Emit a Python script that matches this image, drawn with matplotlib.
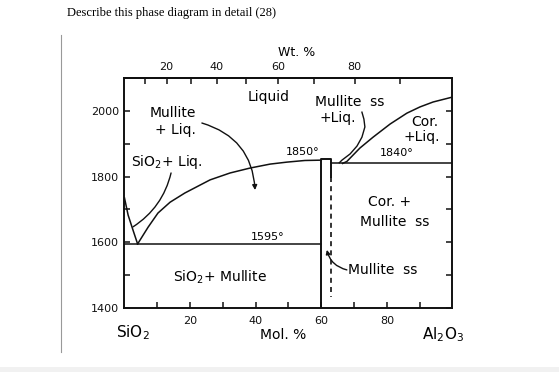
import matplotlib.pyplot as plt
import numpy as np
from matplotlib.patches import Rectangle

# SiO2 - Al2O3 phase diagram, x in mol % Al2O3, y in deg C
sio2_liq_x = [0, 1.1, 2.6, 4]
sio2_liq_t = [1735, 1683, 1637, 1595]
mullite_liq_x = [4, 7.2, 10.2, 13.9, 18.4, 26.1, 32.2, 38.3, 44.4, 49.5, 55, 60]
mullite_liq_t = [1595, 1646, 1689, 1722, 1750, 1790, 1811, 1826, 1838, 1844, 1849, 1850]
cor_liq_x = [66.5, 67.8, 71.8, 75.8, 81, 86.1, 90.1, 94.1, 100]
cor_liq_t = [1840, 1846, 1887, 1920, 1960, 1993, 2012, 2027, 2042]
mss_liq_x = [65.5, 66.3, 68.8, 70.9, 72.4, 73.3, 73, 72.4]
mss_liq_t = [1842, 1850, 1869, 1893, 1920, 1951, 1975, 1996]

eutectic_t = 1595
peritectic_t = 1840
mullite_lo, mullite_hi = 60, 63
mullite_top = 1852

mol_ticks = [10, 20, 30, 40, 50, 60, 70, 80, 90]
mol_labels = [20, 40, 60, 80]
wt_ticks = [10, 20, 30, 40, 50, 60, 70, 80, 90]
wt_labels = [20, 40, 60, 80]
t_ticks = [1400, 1500, 1600, 1700, 1800, 1900, 2000]
t_labels = [1400, 1600, 1800, 2000]

M_AL, M_SI = 101.96, 60.08


def mol_to_wt(m):
    m = np.clip(np.asarray(m, float) / 100, 0, 1)
    return 100 * m * M_AL / (m * M_AL + (1 - m) * M_SI)


def wt_to_mol(w):
    w = np.clip(np.asarray(w, float) / 100, 0, 1)
    return 100 * (w / M_AL) / (w / M_AL + (1 - w) / M_SI)


fig = plt.figure(figsize=(5.59, 3.72), dpi=100)
ax = fig.add_axes([0.2227, 0.172, 0.5867, 0.6183])
lw = 1.1
k = '#111111'

ax.plot(sio2_liq_x, sio2_liq_t, color=k, lw=lw)
ax.plot(mullite_liq_x, mullite_liq_t, color=k, lw=lw)
ax.plot(cor_liq_x, cor_liq_t, color=k, lw=lw)
ax.plot(mss_liq_x, mss_liq_t, color=k, lw=1.0)
ax.plot([0, mullite_lo], [eutectic_t, eutectic_t], color=k, lw=lw)
ax.plot([mullite_hi, 100], [peritectic_t, peritectic_t], color=k, lw=lw)
# mullite solid solution field
ax.plot([mullite_lo, mullite_lo, mullite_hi, mullite_hi],
        [1400, mullite_top, mullite_top, 1800], color=k, lw=1.4)
ax.plot([mullite_hi, mullite_hi], [1800, 1435], color=k, lw=1.2, ls=(0, (3, 2.5)))

ax.set_xlim(0, 100)
ax.set_ylim(1400, 2100)
for s in ax.spines.values():
    s.set_linewidth(1.4)
    s.set_color(k)

ax.set_xticks(mol_ticks)
ax.set_xticklabels([str(v) if v in mol_labels else '' for v in mol_ticks])
ax.set_yticks(t_ticks)
ax.set_yticklabels([str(v) if v in t_labels else '' for v in t_ticks])
ax.tick_params(direction='in', length=4, width=1.1, labelsize=8, colors=k,
               right=True)
ax.tick_params(axis='x', pad=6)
ax.tick_params(axis='y', pad=4)

top = ax.secondary_xaxis('top', functions=(mol_to_wt, wt_to_mol))
top.set_xticks(wt_ticks)
top.set_xticklabels([str(v) if v in wt_labels else '' for v in wt_ticks])
top.tick_params(direction='in', length=4, width=1.1, labelsize=8, pad=4, colors=k)
top.spines['top'].set_linewidth(1.4)

fs = 10
ax.text(43.8, 2042, 'Liquid', fontsize=fs, ha='center', va='center')
ax.text(68.8, 2027, 'Mullite  ss', fontsize=fs, ha='center', va='center')
ax.text(65.1, 1978, '+Liq.', fontsize=fs, ha='center', va='center')
ax.text(91.6, 1966, 'Cor.', fontsize=fs, ha='center', va='center')
ax.text(90.7, 1920, '+Liq.', fontsize=fs, ha='center', va='center')
ax.text(83.1, 1872, '1840°', fontsize=8, ha='center', va='center')
ax.text(54.4, 1875, '1850°', fontsize=8, ha='center', va='center')
ax.text(14.8, 1993, 'Mullite', fontsize=fs, ha='center', va='center')
ax.text(15.4, 1942, '+ Liq.', fontsize=fs, ha='center', va='center')
ax.text(13.0, 1844, 'SiO$_2$+ Liq.', fontsize=fs, ha='center', va='center')
ax.text(43.8, 1616, '1595°', fontsize=8, ha='center', va='center')
ax.text(29.1, 1495, 'SiO$_2$+ Mullite', fontsize=fs, ha='center', va='center')
ax.text(80.9, 1723, 'Cor. +', fontsize=fs, ha='center', va='center')
ax.text(82.5, 1662, 'Mullite  ss', fontsize=fs, ha='center', va='center')
ax.text(68.1, 1516, 'Mullite  ss', fontsize=fs, ha='left', va='center')

# pointers
ax.annotate('', xy=(39.8, 1759), xytext=(23.6, 1963),
            arrowprops=dict(arrowstyle='-|>', color=k, lw=1.0, mutation_scale=7,
                            shrinkA=0, shrinkB=0, connectionstyle='arc3,rad=-0.35'))
ax.annotate('', xy=(2.6, 1647), xytext=(14.2, 1811),
            arrowprops=dict(arrowstyle='-', color=k, lw=1.0,
                            shrinkA=0, shrinkB=0, connectionstyle='arc3,rad=-0.2'))
ax.annotate('', xy=(61.7, 1577), xytext=(67.8, 1516),
            arrowprops=dict(arrowstyle='-|>', color=k, lw=1.0, mutation_scale=6,
                            shrinkA=0, shrinkB=0, connectionstyle='arc3,rad=-0.3'))

fig.text(297 / 559, 1 - 53 / 372, 'Wt. %', fontsize=9, ha='center', va='center')
fig.text(283 / 559, 1 - 335 / 372, 'Mol. %', fontsize=fs, ha='center', va='center')
fig.text(133 / 559, 1 - 333 / 372, 'SiO$_2$', fontsize=11, ha='center', va='center')
fig.text(443 / 559, 1 - 335 / 372, 'Al$_2$O$_3$', fontsize=11, ha='center', va='center')

fig.text(67 / 559, 1 - 13 / 372, 'Describe this phase diagram in detail (28)',
         fontsize=9, family='Liberation Serif', ha='left', va='center')
fig.add_artist(plt.Line2D([61 / 559, 61 / 559], [1 - 352 / 372, 1 - 35 / 372],
                          color='#999999', lw=0.8))
fig.patches.append(Rectangle((0, 0), 1, 5 / 372, transform=fig.transFigure,
                             facecolor='#f1f1f1', edgecolor='none'))

fig.savefig('out.png', dpi=100)
